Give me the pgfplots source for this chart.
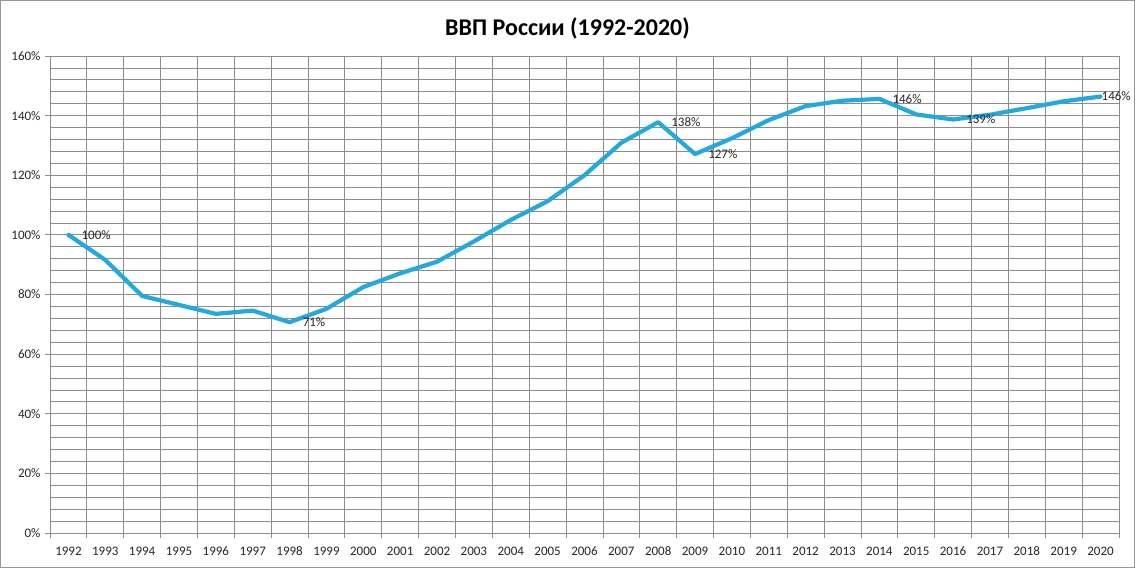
\documentclass[border=0pt]{standalone}
\usepackage{pgfplots}
\pgfplotsset{compat=1.18}
\usepackage{fontspec}
\setmainfont{Carlito}
\definecolor{gdpline}{RGB}{36,168,222}
\definecolor{gridgray}{RGB}{140,140,140}
\definecolor{framegray}{RGB}{150,150,150}

% ВВП России, 1992 = 100%
\pgfplotstableread{
year gdp
1992 100
1993 91.6
1994 79.5
1995 76.5
1996 73.5
1997 74.6
1998 70.7
1999 75.2
2000 82.5
2001 87.1
2002 91.0
2003 97.8
2004 105.0
2005 111.3
2006 120.0
2007 130.9
2008 137.8
2009 127.1
2010 132.4
2011 138.5
2012 143.2
2013 145.0
2014 145.6
2015 140.4
2016 138.7
2017 140.3
2018 142.5
2019 144.8
2020 146.4
}\gdp

% data labels
\pgfplotstableread{
year gdp lab
1992 100 100\%
1998 70.7 71\%
2008 137.8 138\%
2009 127.1 127\%
2014 145.6 146\%
2016 138.7 139\%
}\labels

\pgfplotstableread{
year gdp lab
2020 146.4 146\%
}\lastlabel

\begin{document}
\begin{tikzpicture}[x=1pt,y=1pt]
\useasboundingbox (-50,-35) rectangle (1085,533);
\draw[framegray, line width=1.5pt] (-49.25,-34.25) rectangle (1084.25,532.25);
\begin{axis}[
  at={(0,0)}, anchor=south west, scale only axis,
  width=1069pt, height=477pt,
  xmin=1991.5, xmax=2020.5, ymin=0, ymax=160,
  xtick={1992,1993,...,2020},
  minor xtick={1991.5,1992.5,...,2020.5},
  ytick={0,20,...,160},
  minor y tick num=4,
  tick pos=left, tick align=outside,
  major tick length=5pt, minor tick length=5pt,
  x tick style={draw=none},
  minor x tick style={draw=gridgray, line width=0.8pt},
  y tick style={draw=gridgray, line width=0.8pt},
  minor y tick style={draw=none},
  xmajorgrids=false, xminorgrids=true,
  ymajorgrids=true, yminorgrids=true,
  grid style={gridgray, line width=0.8pt},
  minor grid style={gridgray, line width=0.8pt},
  axis line style={gridgray, line width=0.8pt},
  /pgf/number format/1000 sep={},
  /pgf/number format/assume math mode=true,
  yticklabel={\pgfmathprintnumber{\tick}\%},
  typeset ticklabels with strut,
  ticklabel style={font=\fontsize{13}{15}\selectfont, text=black!85},
  xticklabel style={yshift=-3pt},
  yticklabel style={xshift=-1pt},
  title={\textbf{ВВП России (1992-2020)}},
  title style={font=\fontsize{24}{28}\selectfont, at={(0.5,1)}, anchor=center, yshift=22pt, xshift=-17pt},
  lbl/.style={draw=none, nodes near coords, point meta=explicit symbolic,
    every node near coord/.append style={anchor=west, inner sep=0pt, xshift=#1,
      font=\fontsize{13}{15}\selectfont, text=black!85}},
]
\addplot[gdpline, line width=4.2pt, line join=round, line cap=round] table[x=year, y=gdp] \gdp;
\addplot[lbl=13pt] table[x=year, y=gdp, meta=lab] \labels;
\addplot[lbl=1pt] table[x=year, y=gdp, meta=lab] \lastlabel;
\end{axis}
\end{tikzpicture}
\end{document}
